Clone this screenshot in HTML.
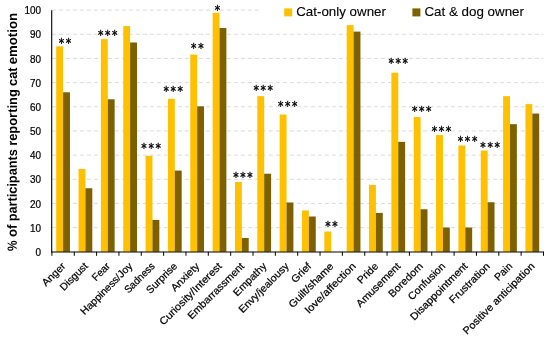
<!DOCTYPE html>
<html><head><meta charset="utf-8"><title>Chart</title>
<style>
html,body{margin:0;padding:0;background:#fff;}
body{width:550px;height:340px;overflow:hidden;}
.t{font-family:"Liberation Sans",sans-serif;fill:#000;stroke:#000;stroke-width:0.22;}
.lg{stroke-width:0.12;}
.b{stroke-width:0;}
.s{font-family:"DejaVu Sans","Liberation Sans",sans-serif;fill:#000;stroke:#000;stroke-width:0.35;}
</style></head><body>
<svg width="550" height="340" viewBox="0 0 550 340" style="display:block">
<rect width="550" height="340" fill="#fff"/>
<line x1="51.9" x2="543.5" y1="227.63" y2="227.63" stroke="#d2d2d2" stroke-width="0.8" stroke-dasharray="4 3"/>
<line x1="51.9" x2="543.5" y1="203.46" y2="203.46" stroke="#d2d2d2" stroke-width="0.8" stroke-dasharray="4 3"/>
<line x1="51.9" x2="543.5" y1="179.29" y2="179.29" stroke="#d2d2d2" stroke-width="0.8" stroke-dasharray="4 3"/>
<line x1="51.9" x2="543.5" y1="155.12" y2="155.12" stroke="#d2d2d2" stroke-width="0.8" stroke-dasharray="4 3"/>
<line x1="51.9" x2="543.5" y1="130.95" y2="130.95" stroke="#d2d2d2" stroke-width="0.8" stroke-dasharray="4 3"/>
<line x1="51.9" x2="543.5" y1="106.78" y2="106.78" stroke="#d2d2d2" stroke-width="0.8" stroke-dasharray="4 3"/>
<line x1="51.9" x2="543.5" y1="82.61" y2="82.61" stroke="#d2d2d2" stroke-width="0.8" stroke-dasharray="4 3"/>
<line x1="51.9" x2="543.5" y1="58.44" y2="58.44" stroke="#d2d2d2" stroke-width="0.8" stroke-dasharray="4 3"/>
<line x1="51.9" x2="543.5" y1="34.27" y2="34.27" stroke="#d2d2d2" stroke-width="0.8" stroke-dasharray="4 3"/>
<line x1="51.9" x2="543.5" y1="10.10" y2="10.10" stroke="#d2d2d2" stroke-width="0.8" stroke-dasharray="4 3"/>
<rect x="56.20" y="46.36" width="6.88" height="205.44" fill="#ffc000"/>
<rect x="63.08" y="92.28" width="6.88" height="159.52" fill="#7f6000"/>
<rect x="78.55" y="168.90" width="6.88" height="82.90" fill="#ffc000"/>
<rect x="85.42" y="188.23" width="6.88" height="63.57" fill="#7f6000"/>
<rect x="100.89" y="39.10" width="6.88" height="212.70" fill="#ffc000"/>
<rect x="107.77" y="99.29" width="6.88" height="152.51" fill="#7f6000"/>
<rect x="123.23" y="26.05" width="6.88" height="225.75" fill="#ffc000"/>
<rect x="130.12" y="42.49" width="6.88" height="209.31" fill="#7f6000"/>
<rect x="145.58" y="155.85" width="6.88" height="95.95" fill="#ffc000"/>
<rect x="152.46" y="219.90" width="6.88" height="31.90" fill="#7f6000"/>
<rect x="167.93" y="98.80" width="6.88" height="153.00" fill="#ffc000"/>
<rect x="174.81" y="170.59" width="6.88" height="81.21" fill="#7f6000"/>
<rect x="190.27" y="54.57" width="6.88" height="197.23" fill="#ffc000"/>
<rect x="197.15" y="106.30" width="6.88" height="145.50" fill="#7f6000"/>
<rect x="212.62" y="12.76" width="6.88" height="239.04" fill="#ffc000"/>
<rect x="219.50" y="27.99" width="6.88" height="223.81" fill="#7f6000"/>
<rect x="234.96" y="181.95" width="6.88" height="69.85" fill="#ffc000"/>
<rect x="241.84" y="238.02" width="6.88" height="13.78" fill="#7f6000"/>
<rect x="257.31" y="96.15" width="6.88" height="155.65" fill="#ffc000"/>
<rect x="264.19" y="173.73" width="6.88" height="78.07" fill="#7f6000"/>
<rect x="279.65" y="114.51" width="6.88" height="137.29" fill="#ffc000"/>
<rect x="286.53" y="202.49" width="6.88" height="49.31" fill="#7f6000"/>
<rect x="302.00" y="210.47" width="6.88" height="41.33" fill="#ffc000"/>
<rect x="308.88" y="216.51" width="6.88" height="35.29" fill="#7f6000"/>
<rect x="324.34" y="231.50" width="6.88" height="20.30" fill="#ffc000"/>
<rect x="346.69" y="25.09" width="6.88" height="226.71" fill="#ffc000"/>
<rect x="353.56" y="31.61" width="6.88" height="220.19" fill="#7f6000"/>
<rect x="369.03" y="184.85" width="6.88" height="66.95" fill="#ffc000"/>
<rect x="375.91" y="212.89" width="6.88" height="38.91" fill="#7f6000"/>
<rect x="391.37" y="72.70" width="6.88" height="179.10" fill="#ffc000"/>
<rect x="398.25" y="141.83" width="6.88" height="109.97" fill="#7f6000"/>
<rect x="413.72" y="116.93" width="6.88" height="134.87" fill="#ffc000"/>
<rect x="420.60" y="209.26" width="6.88" height="42.54" fill="#7f6000"/>
<rect x="436.06" y="135.06" width="6.88" height="116.74" fill="#ffc000"/>
<rect x="442.94" y="227.51" width="6.88" height="24.29" fill="#7f6000"/>
<rect x="458.41" y="145.45" width="6.88" height="106.35" fill="#ffc000"/>
<rect x="465.29" y="227.51" width="6.88" height="24.29" fill="#7f6000"/>
<rect x="480.75" y="150.53" width="6.88" height="101.27" fill="#ffc000"/>
<rect x="487.63" y="202.25" width="6.88" height="49.55" fill="#7f6000"/>
<rect x="503.10" y="96.15" width="6.88" height="155.65" fill="#ffc000"/>
<rect x="509.98" y="124.18" width="6.88" height="127.62" fill="#7f6000"/>
<rect x="525.44" y="104.12" width="6.88" height="147.68" fill="#ffc000"/>
<rect x="532.32" y="113.55" width="6.88" height="138.25" fill="#7f6000"/>
<rect x="259.5" y="2" width="290.5" height="20" fill="#fff"/>
<rect x="284.2" y="8.4" width="8" height="8" fill="#ffc000"/>
<text x="296.2" y="16.3" font-size="13.3" textLength="89.8" lengthAdjust="spacingAndGlyphs" class="t lg">Cat-only owner</text>
<rect x="412.4" y="8.4" width="8" height="8" fill="#7f6000"/>
<text x="424.4" y="16.3" font-size="13.3" textLength="99.6" lengthAdjust="spacingAndGlyphs" class="t lg">Cat &amp; dog owner</text>
<text transform="translate(58.71,46.87) scale(0.95,1)" font-size="11.4" letter-spacing="1.742" class="s">**</text>
<text transform="translate(97.97,39.27) scale(0.95,1)" font-size="11.4" letter-spacing="1.742" class="s">***</text>
<text transform="translate(141.37,152.07) scale(0.95,1)" font-size="11.4" letter-spacing="1.742" class="s">***</text>
<text transform="translate(163.47,95.37) scale(0.95,1)" font-size="11.4" letter-spacing="1.742" class="s">***</text>
<text transform="translate(191.11,52.07) scale(0.95,1)" font-size="11.4" letter-spacing="1.742" class="s">**</text>
<text transform="translate(214.84,13.62) scale(0.95,1)" font-size="11.4" letter-spacing="1.742" class="s">*</text>
<text transform="translate(233.22,180.57) scale(0.95,1)" font-size="11.4" letter-spacing="1.742" class="s">***</text>
<text transform="translate(253.47,93.67) scale(0.95,1)" font-size="11.4" letter-spacing="1.742" class="s">***</text>
<text transform="translate(277.92,109.92) scale(0.95,1)" font-size="11.4" letter-spacing="1.742" class="s">***</text>
<text transform="translate(325.26,229.97) scale(0.95,1)" font-size="11.4" letter-spacing="1.742" class="s">**</text>
<text transform="translate(388.47,67.47) scale(0.95,1)" font-size="11.4" letter-spacing="1.742" class="s">***</text>
<text transform="translate(411.92,114.97) scale(0.95,1)" font-size="11.4" letter-spacing="1.742" class="s">***</text>
<text transform="translate(431.67,134.97) scale(0.95,1)" font-size="11.4" letter-spacing="1.742" class="s">***</text>
<text transform="translate(457.77,145.27) scale(0.95,1)" font-size="11.4" letter-spacing="1.742" class="s">***</text>
<text transform="translate(480.32,150.97) scale(0.95,1)" font-size="11.4" letter-spacing="1.742" class="s">***</text>
<line x1="51.699999999999996" x2="51.699999999999996" y1="10.2" y2="252.5" stroke="#000" stroke-width="1.1"/>
<line x1="51.35" x2="544" y1="252.0" y2="252.0" stroke="#000" stroke-width="1"/>
<line x1="51.90" x2="51.90" y1="251.8" y2="255.8" stroke="#000" stroke-width="1"/>
<line x1="74.25" x2="74.25" y1="251.8" y2="255.8" stroke="#000" stroke-width="1"/>
<line x1="96.59" x2="96.59" y1="251.8" y2="255.8" stroke="#000" stroke-width="1"/>
<line x1="118.94" x2="118.94" y1="251.8" y2="255.8" stroke="#000" stroke-width="1"/>
<line x1="141.28" x2="141.28" y1="251.8" y2="255.8" stroke="#000" stroke-width="1"/>
<line x1="163.62" x2="163.62" y1="251.8" y2="255.8" stroke="#000" stroke-width="1"/>
<line x1="185.97" x2="185.97" y1="251.8" y2="255.8" stroke="#000" stroke-width="1"/>
<line x1="208.31" x2="208.31" y1="251.8" y2="255.8" stroke="#000" stroke-width="1"/>
<line x1="230.66" x2="230.66" y1="251.8" y2="255.8" stroke="#000" stroke-width="1"/>
<line x1="253.00" x2="253.00" y1="251.8" y2="255.8" stroke="#000" stroke-width="1"/>
<line x1="275.35" x2="275.35" y1="251.8" y2="255.8" stroke="#000" stroke-width="1"/>
<line x1="297.69" x2="297.69" y1="251.8" y2="255.8" stroke="#000" stroke-width="1"/>
<line x1="320.04" x2="320.04" y1="251.8" y2="255.8" stroke="#000" stroke-width="1"/>
<line x1="342.38" x2="342.38" y1="251.8" y2="255.8" stroke="#000" stroke-width="1"/>
<line x1="364.73" x2="364.73" y1="251.8" y2="255.8" stroke="#000" stroke-width="1"/>
<line x1="387.07" x2="387.07" y1="251.8" y2="255.8" stroke="#000" stroke-width="1"/>
<line x1="409.42" x2="409.42" y1="251.8" y2="255.8" stroke="#000" stroke-width="1"/>
<line x1="431.76" x2="431.76" y1="251.8" y2="255.8" stroke="#000" stroke-width="1"/>
<line x1="454.11" x2="454.11" y1="251.8" y2="255.8" stroke="#000" stroke-width="1"/>
<line x1="476.45" x2="476.45" y1="251.8" y2="255.8" stroke="#000" stroke-width="1"/>
<line x1="498.80" x2="498.80" y1="251.8" y2="255.8" stroke="#000" stroke-width="1"/>
<line x1="521.14" x2="521.14" y1="251.8" y2="255.8" stroke="#000" stroke-width="1"/>
<line x1="543.49" x2="543.49" y1="251.8" y2="255.8" stroke="#000" stroke-width="1"/>
<text x="41" y="255.90" font-size="10.3" text-anchor="end" textLength="5.53" lengthAdjust="spacingAndGlyphs" class="t">0</text>
<text x="41" y="231.73" font-size="10.3" text-anchor="end" textLength="11.06" lengthAdjust="spacingAndGlyphs" class="t">10</text>
<text x="41" y="207.56" font-size="10.3" text-anchor="end" textLength="11.06" lengthAdjust="spacingAndGlyphs" class="t">20</text>
<text x="41" y="183.39" font-size="10.3" text-anchor="end" textLength="11.06" lengthAdjust="spacingAndGlyphs" class="t">30</text>
<text x="41" y="159.22" font-size="10.3" text-anchor="end" textLength="11.06" lengthAdjust="spacingAndGlyphs" class="t">40</text>
<text x="41" y="135.05" font-size="10.3" text-anchor="end" textLength="11.06" lengthAdjust="spacingAndGlyphs" class="t">50</text>
<text x="41" y="110.88" font-size="10.3" text-anchor="end" textLength="11.06" lengthAdjust="spacingAndGlyphs" class="t">60</text>
<text x="41" y="86.71" font-size="10.3" text-anchor="end" textLength="11.06" lengthAdjust="spacingAndGlyphs" class="t">70</text>
<text x="41" y="62.54" font-size="10.3" text-anchor="end" textLength="11.06" lengthAdjust="spacingAndGlyphs" class="t">80</text>
<text x="41" y="38.37" font-size="10.3" text-anchor="end" textLength="11.06" lengthAdjust="spacingAndGlyphs" class="t">90</text>
<text x="41" y="14.20" font-size="10.3" text-anchor="end" textLength="16.59" lengthAdjust="spacingAndGlyphs" class="t">100</text>
<g transform="translate(16.8,251.0) rotate(-89.95)">
<text x="0.00" y="0" font-size="13.3" font-weight="bold" class="t b" textLength="10.62" lengthAdjust="spacingAndGlyphs">%</text>
<text x="13.91" y="0" font-size="13.3" font-weight="bold" class="t b" textLength="12.43" lengthAdjust="spacingAndGlyphs">of</text>
<text x="29.64" y="0" font-size="13.3" font-weight="bold" class="t b" textLength="72.20" lengthAdjust="spacingAndGlyphs">participants</text>
<text x="105.13" y="0" font-size="13.3" font-weight="bold" class="t b" textLength="56.67" lengthAdjust="spacingAndGlyphs">reporting</text>
<text x="165.09" y="0" font-size="13.3" font-weight="bold" class="t b" textLength="18.34" lengthAdjust="spacingAndGlyphs">cat</text>
<text x="186.72" y="0" font-size="13.3" font-weight="bold" class="t b" textLength="51.28" lengthAdjust="spacingAndGlyphs">emotion</text>
</g>
<text transform="translate(66.07,266.80) rotate(-45)" font-size="10.3" text-anchor="end" textLength="28.3" lengthAdjust="spacingAndGlyphs" class="t">Anger</text>
<text transform="translate(88.42,266.80) rotate(-45)" font-size="10.3" text-anchor="end" textLength="34.6" lengthAdjust="spacingAndGlyphs" class="t">Disgust</text>
<text transform="translate(110.76,266.80) rotate(-45)" font-size="10.3" text-anchor="end" textLength="20.9" lengthAdjust="spacingAndGlyphs" class="t">Fear</text>
<text transform="translate(133.11,266.80) rotate(-45)" font-size="10.3" text-anchor="end" textLength="68.7" lengthAdjust="spacingAndGlyphs" class="t">Happiness/Joy</text>
<text transform="translate(155.45,266.80) rotate(-45)" font-size="10.3" text-anchor="end" textLength="38.2" lengthAdjust="spacingAndGlyphs" class="t">Sadness</text>
<text transform="translate(177.80,266.80) rotate(-45)" font-size="10.3" text-anchor="end" textLength="38.9" lengthAdjust="spacingAndGlyphs" class="t">Surprise</text>
<text transform="translate(200.14,266.80) rotate(-45)" font-size="10.3" text-anchor="end" textLength="35.7" lengthAdjust="spacingAndGlyphs" class="t">Anxiety</text>
<text transform="translate(222.49,266.80) rotate(-45)" font-size="10.3" text-anchor="end" textLength="83.5" lengthAdjust="spacingAndGlyphs" class="t">Curiosity/Interest</text>
<text transform="translate(244.83,266.80) rotate(-45)" font-size="10.3" text-anchor="end" textLength="75.0" lengthAdjust="spacingAndGlyphs" class="t">Embarrassment</text>
<text transform="translate(267.18,266.80) rotate(-45)" font-size="10.3" text-anchor="end" textLength="42.2" lengthAdjust="spacingAndGlyphs" class="t">Empathy</text>
<text transform="translate(289.52,266.80) rotate(-45)" font-size="10.3" text-anchor="end" textLength="66.1" lengthAdjust="spacingAndGlyphs" class="t">Envy/jealousy</text>
<text transform="translate(311.87,266.80) rotate(-45)" font-size="10.3" text-anchor="end" textLength="23.5" lengthAdjust="spacingAndGlyphs" class="t">Grief</text>
<text transform="translate(334.21,266.80) rotate(-45)" font-size="10.3" text-anchor="end" textLength="58.8" lengthAdjust="spacingAndGlyphs" class="t">Guilt/shame</text>
<text transform="translate(356.56,266.80) rotate(-45)" font-size="10.3" text-anchor="end" textLength="66.9" lengthAdjust="spacingAndGlyphs" class="t">love/affection</text>
<text transform="translate(378.90,266.80) rotate(-45)" font-size="10.3" text-anchor="end" textLength="24.8" lengthAdjust="spacingAndGlyphs" class="t">Pride</text>
<text transform="translate(401.25,266.80) rotate(-45)" font-size="10.3" text-anchor="end" textLength="57.9" lengthAdjust="spacingAndGlyphs" class="t">Amusement</text>
<text transform="translate(423.59,266.80) rotate(-45)" font-size="10.3" text-anchor="end" textLength="44.1" lengthAdjust="spacingAndGlyphs" class="t">Boredom</text>
<text transform="translate(445.94,266.80) rotate(-45)" font-size="10.3" text-anchor="end" textLength="47.9" lengthAdjust="spacingAndGlyphs" class="t">Confusion</text>
<text transform="translate(468.28,266.80) rotate(-45)" font-size="10.3" text-anchor="end" textLength="76.5" lengthAdjust="spacingAndGlyphs" class="t">Disappointment</text>
<text transform="translate(490.63,266.80) rotate(-45)" font-size="10.3" text-anchor="end" textLength="52.7" lengthAdjust="spacingAndGlyphs" class="t">Frustration</text>
<text transform="translate(512.97,266.80) rotate(-45)" font-size="10.3" text-anchor="end" textLength="20.5" lengthAdjust="spacingAndGlyphs" class="t">Pain</text>
<text transform="translate(535.32,266.80) rotate(-45)" font-size="10.3" text-anchor="end" textLength="96.5" lengthAdjust="spacingAndGlyphs" class="t">Positive anticipation</text>
</svg>
</body></html>
